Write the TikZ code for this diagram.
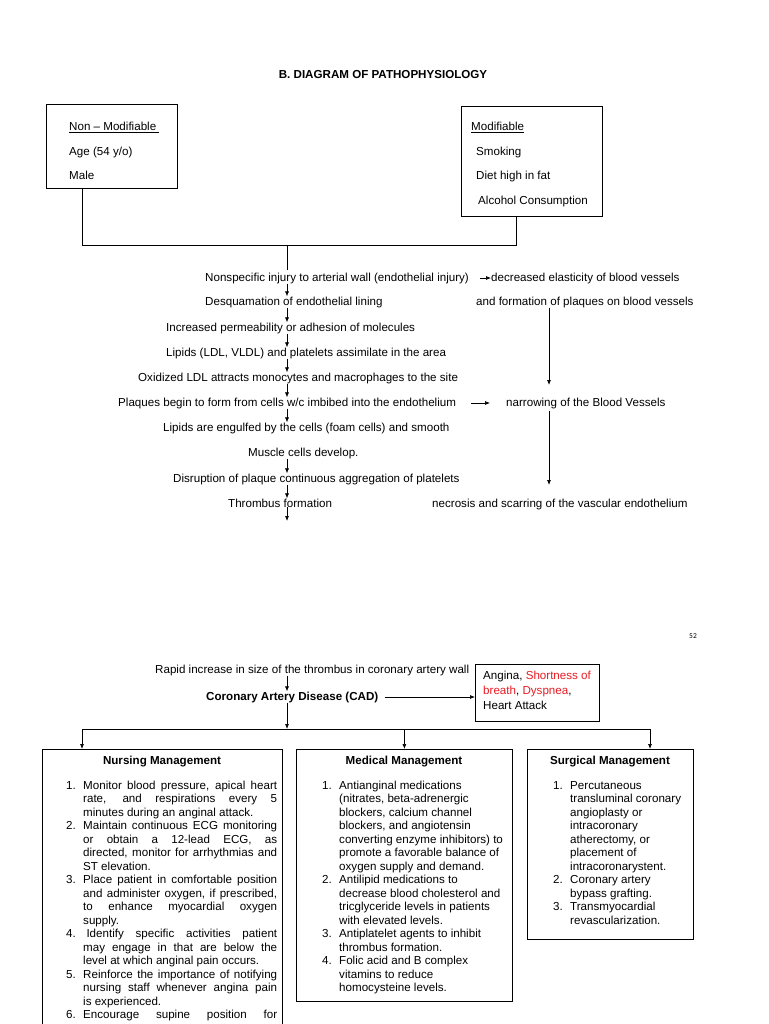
\documentclass[tikz,border=0pt]{standalone}
\usepackage{fontspec}
\setmainfont{Liberation Sans}
\newfontfamily\pgnumfont{Carlito}
\usetikzlibrary{arrows.meta}
\definecolor{symred}{RGB}{232,28,36}
\newcommand\JL[2]{\makebox[17pt][l]{#1}\makebox[194pt][s]{#2}}
\newcommand\PL[3]{\makebox[#1][l]{#2}#3}
\begin{document}
\begin{tikzpicture}[x=1pt,y=-1pt,
  txt/.style={anchor=base west, inner sep=0pt, font=\fontsize{11.6}{13.5}\selectfont},
  ttl/.style={anchor=base, inner sep=0pt, font=\fontsize{11.6}{13.5}\selectfont\bfseries},
  arr/.style={-{Latex[length=5pt,width=4pt]}, line width=0.7pt},
  ln/.style={line width=0.8pt},
  bx/.style={draw, line width=0.8pt, inner sep=0pt}]
\useasboundingbox[fill=white] (0,0) rectangle (768,1024);

% title
\node[ttl] (title) at (383,79) {B. DIAGRAM OF PATHOPHYSIOLOGY};

% risk factor boxes
\node[bx, anchor=north west, minimum width=131pt, minimum height=84pt] (nm) at (46,104) {};
\node[txt] (nm1) at (69,131) {\underline{Non – Modifiable\ }};
\node[txt] (nm2) at (69,156) {Age (54 y/o)};
\node[txt] (nm3) at (69,180) {Male};

\node[bx, anchor=north west, minimum width=141pt, minimum height=110pt] (mo) at (461,106) {};
\node[txt] (mo1) at (471,131) {\underline{Modifiable}};
\node[txt] (mo2) at (476,156) {Smoking};
\node[txt] (mo3) at (476,180) {Diet high in fat};
\node[txt] (mo4) at (478,205) {Alcohol Consumption};

% joining lines
\coordinate (jl) at (82,245);
\coordinate (jr) at (516,245);
\coordinate (jc) at (287,245);
\coordinate (ax) at (287,0);
\coordinate (vx) at (549,0);

% main flow
\node[txt] (f1) at (205,281) {Nonspecific injury to arterial wall (endothelial injury)};
\node[txt] (f2) at (205,305) {Desquamation of endothelial lining};
\node[txt] (f3) at (166,331) {Increased permeability or adhesion of molecules};
\node[txt] (f4) at (166,356) {Lipids (LDL, VLDL) and platelets assimilate in the area};
\node[txt] (f5) at (138,381) {Oxidized LDL attracts monocytes and macrophages to the site};
\node[txt] (f6) at (118,406) {Plaques begin to form from cells w/c imbibed into the endothelium};
\node[txt] (f7) at (163,431) {Lipids are engulfed by the cells (foam cells) and smooth};
\node[txt] (f8) at (248,456) {Muscle cells develop.};
\node[txt] (f9) at (173,482) {Disruption of plaque continuous aggregation of platelets};
\node[txt] (f10) at (228,507) {Thrombus formation};
\coordinate (fend) at (287,521);

\draw[ln] (nm.south -| jl) -- (jl) -- (jr) -- (mo.south -| jr);
\draw[ln] (jc) -- ([yshift=2pt]f1.north -| ax);

\draw[arr] (f1.south -| ax) -- (f2.north -| ax);
\draw[arr] (f2.south -| ax) -- (f3.north -| ax);
\draw[arr] (f3.south -| ax) -- (f4.north -| ax);
\draw[arr] (f4.south -| ax) -- (f5.north -| ax);
\draw[arr] (f5.south -| ax) -- (f6.north -| ax);
\draw[arr] (f6.south -| ax) -- (f7.north -| ax);
\draw[arr] (f8.south -| ax) -- (f9.north -| ax);
\draw[arr] (f9.south -| ax) -- (f10.north -| ax);
\draw[arr] (f10.south -| ax) -- (fend);

% right column
\node[txt] (r1) at (491,281) {decreased elasticity of blood vessels};
\node[txt] (r2) at (476,305) {and formation of plaques on blood vessels};
\node[txt] (r3) at (506,406) {narrowing of the Blood Vessels};
\node[txt] (r4) at (432,507) {necrosis and scarring of the vascular endothelium};
\coordinate (v1e) at (549,385);
\coordinate (v2e) at (549,485);

\draw[arr] ([xshift=11pt]f1.east) -- (r1.west);
\draw[arr] ([xshift=15pt]f6.east) -- ([xshift=-16pt]r3.west);
\draw[arr] (r2.south -| vx) -- (v1e);
\draw[arr] ([yshift=-2pt]r3.south -| vx) -- (v2e);

% page number
\node[anchor=base, inner sep=0pt, font=\pgnumfont\fontsize{7.5}{9}\selectfont] (pg) at (693,638) {52};

% CAD part
\node[txt] (g1) at (155,673) {Rapid increase in size of the thrombus in coronary artery wall};
\node[txt, font=\fontsize{11.6}{13.5}\selectfont\bfseries] (cad) at (206,700) {Coronary Artery Disease (CAD)};
\draw[arr] (g1.south -| ax) -- (cad.north -| ax);

\node[bx, anchor=north west, minimum width=124pt, minimum height=57pt] (sym) at (475,664) {};
\node[txt, font=\fontsize{11.6}{15}\selectfont] (symt) at (483,679) {\parbox[t]{112pt}{\raggedright
Angina, \textcolor{symred}{Shortness of}\\
\textcolor{symred}{breath}, \textcolor{symred}{Dyspnea},\\
Heart Attack}};
\draw[arr] ([xshift=6pt]cad.east) -- (cad.east -| sym.west);

\coordinate (bj) at (287,729);
\coordinate (bl) at (82,729);
\coordinate (br) at (650,729);
\draw[arr] (cad.south -| ax) -- (bj);
\draw[ln] (bl) -- (br);

% management boxes
\node[anchor=north west, minimum width=240pt, minimum height=276pt, inner sep=0pt] (nb) at (42,749) {};
\draw[ln] (nb.south west) -- (nb.north west) -- (nb.north east) -- (nb.south east);
\node[bx, anchor=north west, minimum width=216pt, minimum height=252pt] (md) at (296,749) {};
\node[bx, anchor=north west, minimum width=166pt, minimum height=190pt] (sb) at (527,749) {};

\draw[arr] (bl) -- (nb.north -| bl);
\draw[arr] (bl -| md.north) -- (md.north);
\draw[arr] (br) -- (sb.north -| br);

\node[ttl] (nt) at (162,764) {Nursing Management};
\node[ttl] (mt) at (404,764) {Medical Management};
\node[ttl] (st) at (610,764) {Surgical Management};

\node[txt] (nl) at (66,789) {\parbox[t]{211pt}{\raggedright
\JL{1.}{Monitor blood pressure, apical heart}\\
\JL{}{rate, and respirations every 5}\\
\PL{17pt}{}{minutes during an anginal attack.}\\
\JL{2.}{Maintain continuous ECG monitoring}\\
\JL{}{or obtain a 12-lead ECG, as}\\
\JL{}{directed, monitor for arrhythmias and}\\
\PL{17pt}{}{ST elevation.}\\
\JL{3.}{Place patient in comfortable position}\\
\JL{}{and administer oxygen, if prescribed,}\\
\JL{}{to enhance myocardial oxygen}\\
\PL{17pt}{}{supply.}\\
\JL{4.}{\hspace{3.3pt}Identify specific activities patient}\\
\JL{}{may engage in that are below the}\\
\PL{17pt}{}{level at which anginal pain occurs.}\\
\JL{5.}{Reinforce the importance of notifying}\\
\JL{}{nursing staff whenever angina pain}\\
\PL{17pt}{}{is experienced.}\\
\JL{6.}{Encourage supine position for}}};

\node[txt] (ml) at (322,789) {\parbox[t]{190pt}{\raggedright
\PL{17pt}{1.}{Antianginal medications}\\
\PL{17pt}{}{(nitrates, beta-adrenergic}\\
\PL{17pt}{}{blockers, calcium channel}\\
\PL{17pt}{}{blockers, and angiotensin}\\
\PL{17pt}{}{converting enzyme inhibitors) to}\\
\PL{17pt}{}{promote a favorable balance of}\\
\PL{17pt}{}{oxygen supply and demand.}\\
\PL{17pt}{2.}{Antilipid medications to}\\
\PL{17pt}{}{decrease blood cholesterol and}\\
\PL{17pt}{}{tricglyceride levels in patients}\\
\PL{17pt}{}{with elevated levels.}\\
\PL{17pt}{3.}{Antiplatelet agents to inhibit}\\
\PL{17pt}{}{thrombus formation.}\\
\PL{17pt}{4.}{Folic acid and B complex}\\
\PL{17pt}{}{vitamins to reduce}\\
\PL{17pt}{}{homocysteine levels.}}};

\node[txt] (sl) at (553,789) {\parbox[t]{138pt}{\raggedright
\PL{17pt}{1.}{Percutaneous}\\
\PL{17pt}{}{transluminal coronary}\\
\PL{17pt}{}{angioplasty or}\\
\PL{17pt}{}{intracoronary}\\
\PL{17pt}{}{atherectomy, or}\\
\PL{17pt}{}{placement of}\\
\PL{17pt}{}{intracoronarystent.}\\
\PL{17pt}{2.}{Coronary artery}\\
\PL{17pt}{}{bypass grafting.}\\
\PL{17pt}{3.}{Transmyocardial}\\
\PL{17pt}{}{revascularization.}}};
\end{tikzpicture}
\end{document}
